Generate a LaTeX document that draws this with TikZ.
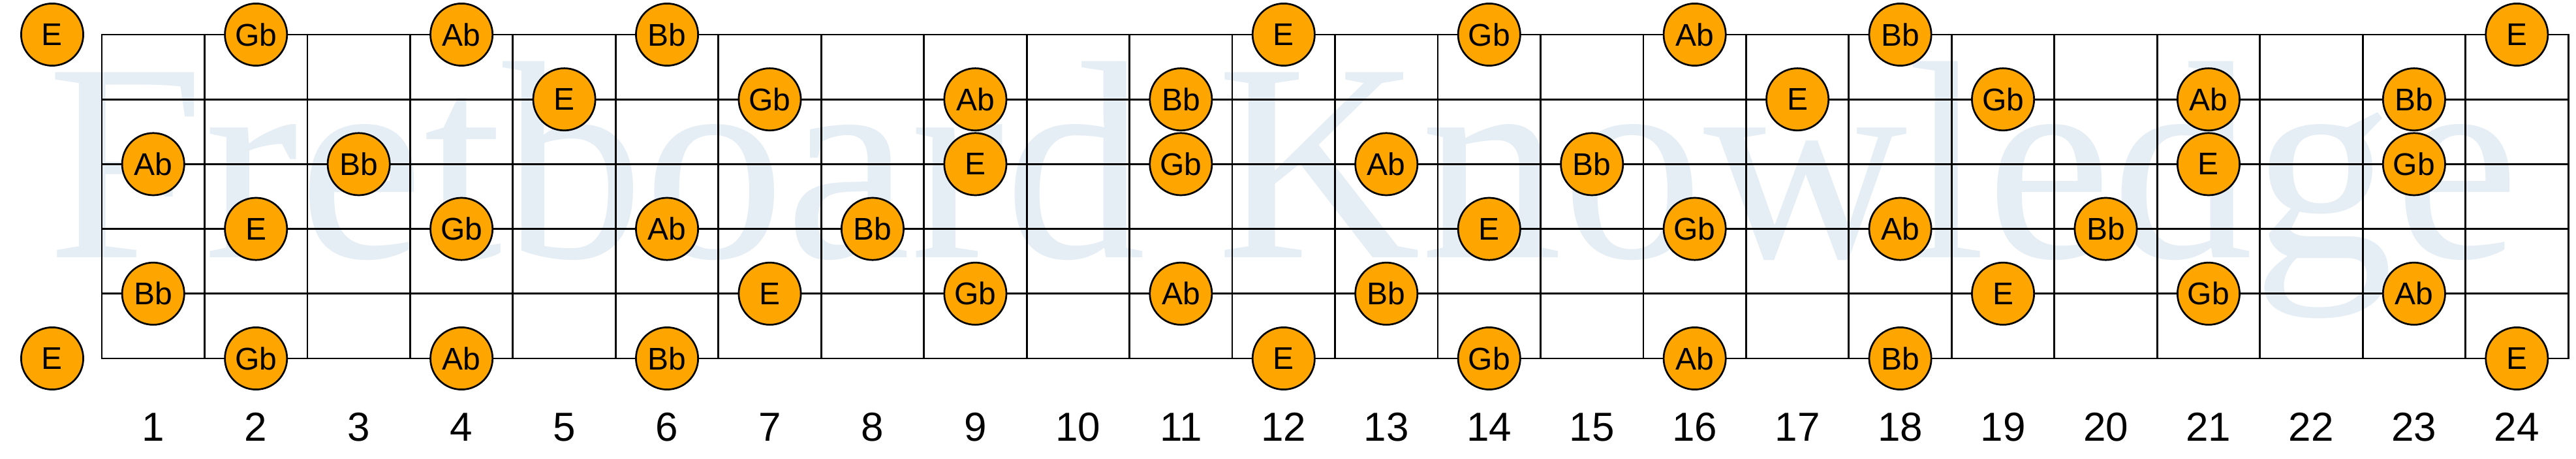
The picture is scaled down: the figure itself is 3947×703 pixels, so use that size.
\documentclass[tikz,border=0pt]{standalone}
\usepackage{fontspec}
\setmainfont{Liberation Sans}
\newfontfamily\wmfont{Liberation Serif}
\definecolor{wmblue}{RGB}{230,238,245}
\definecolor{noteorange}{RGB}{255,165,0}
\begin{document}
\begin{tikzpicture}[x=0.25pt,y=-0.25pt,
  gridline/.style={line width=0.7pt, black, line cap=rect},
  note/.style={circle, draw=black, line width=0.68pt, fill=noteorange, minimum size=23.8pt, inner sep=0pt, font=\fontsize{12}{12}\selectfont},
  fretnum/.style={inner sep=0pt, font=\fontsize{15.5}{15.5}\selectfont}]
\path[use as bounding box, fill=white] (0,0) rectangle (3947,703);
\node[anchor=base west, text=wmblue, inner sep=0pt] (wm) at (72,395) {\wmfont\fontsize{108.25}{108.25}\selectfont Fretboard Knowledge};
\foreach \s in {0,...,5} {
  \coordinate (sL\s) at (156, 53+99.2*\s);
  \coordinate (sR\s) at (3935, 53+99.2*\s);
  \draw[gridline] (sL\s) -- (sR\s);
}
\foreach \f in {0,...,24} {
  \coordinate (fT\f) at (156+157.46*\f, 53);
  \coordinate (fB\f) at (156+157.46*\f, 549);
  \draw[gridline] (fT\f) -- (fB\f);
}
\foreach \f in {1,...,24} {
  \node[fretnum] (num\f) at (156+157.46*\f-78.73, 654) {\f};
}
\foreach \f/\s/\t in {
  0/0/E, 2/0/Gb, 4/0/Ab, 6/0/Bb, 12/0/E, 14/0/Gb, 16/0/Ab, 18/0/Bb, 24/0/E,
  5/1/E, 7/1/Gb, 9/1/Ab, 11/1/Bb, 17/1/E, 19/1/Gb, 21/1/Ab, 23/1/Bb,
  1/2/Ab, 3/2/Bb, 9/2/E, 11/2/Gb, 13/2/Ab, 15/2/Bb, 21/2/E, 23/2/Gb,
  2/3/E, 4/3/Gb, 6/3/Ab, 8/3/Bb, 14/3/E, 16/3/Gb, 18/3/Ab, 20/3/Bb,
  1/4/Bb, 7/4/E, 9/4/Gb, 11/4/Ab, 13/4/Bb, 19/4/E, 21/4/Gb, 23/4/Ab,
  0/5/E, 2/5/Gb, 4/5/Ab, 6/5/Bb, 12/5/E, 14/5/Gb, 16/5/Ab, 18/5/Bb, 24/5/E} {
  \pgfmathsetmacro\xx{\f==0 ? 80 : 156+157.46*(\f-0.5)}
  \node[note] (N\s-\f) at (\xx, 53+99.2*\s) {\t};
}
\end{tikzpicture}
\end{document}
